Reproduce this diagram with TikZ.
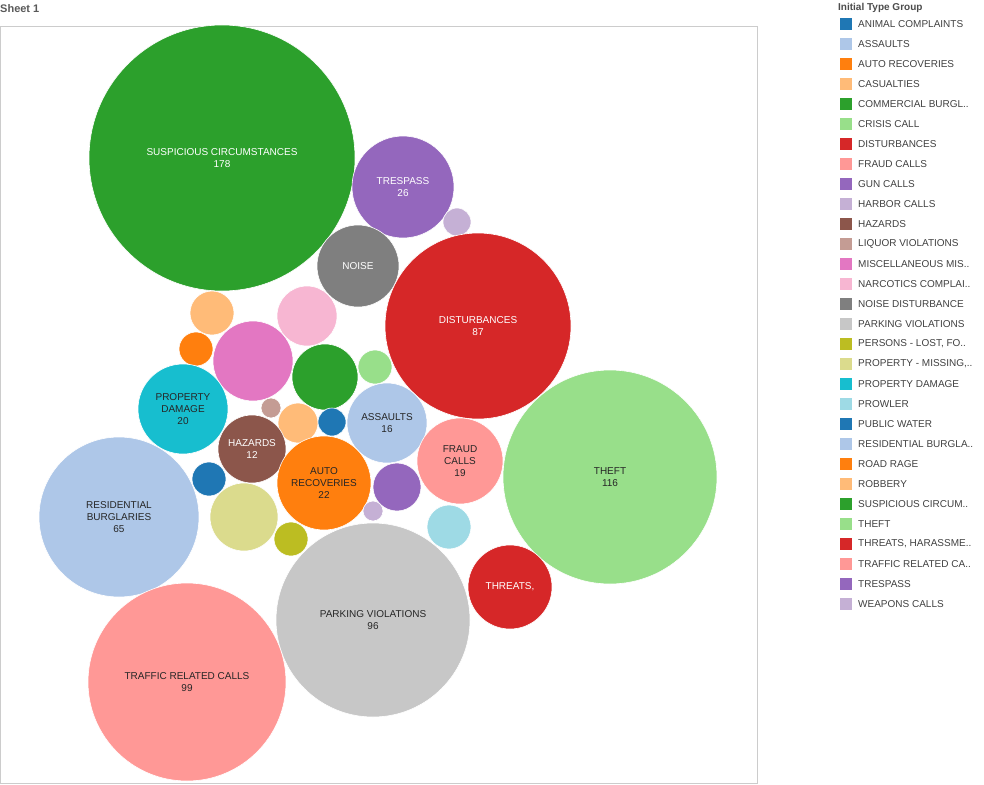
\documentclass[tikz,border=0pt]{standalone}
\usepackage{fontspec}
\setmainfont{Liberation Sans}
\begin{document}
\begin{tikzpicture}[x=1pt,y=-1pt,
  bub/.style={circle,draw=white,line width=0.6pt,inner sep=0pt,align=center,font=\fontsize{10}{12}\selectfont},
  wt/.style={text=white},
  bk/.style={text=black!85},
  leg/.style={anchor=west,font=\fontsize{10}{12}\selectfont,text=black!75,inner sep=0pt},
  sq/.style={minimum size=12pt,inner sep=0pt}]
\useasboundingbox (0,0) rectangle (984,784);
\definecolor{c1}{HTML}{1F77B4}\definecolor{c2}{HTML}{AEC7E8}\definecolor{c3}{HTML}{FF7F0E}
\definecolor{c4}{HTML}{FFBB78}\definecolor{c5}{HTML}{2CA02C}\definecolor{c6}{HTML}{98DF8A}
\definecolor{c7}{HTML}{D62728}\definecolor{c8}{HTML}{FF9896}\definecolor{c9}{HTML}{9467BD}
\definecolor{c10}{HTML}{C5B0D5}\definecolor{c11}{HTML}{8C564B}\definecolor{c12}{HTML}{C49C94}
\definecolor{c13}{HTML}{E377C2}\definecolor{c14}{HTML}{F7B6D2}\definecolor{c15}{HTML}{7F7F7F}
\definecolor{c16}{HTML}{C7C7C7}\definecolor{c17}{HTML}{BCBD22}\definecolor{c18}{HTML}{DBDB8D}
\definecolor{c19}{HTML}{17BECF}\definecolor{c20}{HTML}{9EDAE5}
\node[anchor=west,inner sep=0pt,font=\bfseries\fontsize{11}{13}\selectfont,text=black!65] (title) at (0,9) {Sheet 1};
\draw[black!20] (0,26) rectangle (757,783);
% bubbles
\node[bub,wt,fill=c5,minimum size=266pt] (susp) at (222,158) {SUSPICIOUS CIRCUMSTANCES\\178};
\node[bub,wt,fill=c9,minimum size=102pt] (tres) at (403,187) {TRESPASS\\26};
\node[bub,fill=c10,minimum size=28pt] (weap) at (457,222) {};
\node[bub,wt,fill=c15,minimum size=82pt] (noise) at (358,266) {NOISE};
\node[bub,wt,fill=c7,minimum size=186pt] (dist) at (478,326) {DISTURBANCES\\87};
\node[bub,bk,fill=c6,minimum size=214pt] (theft) at (610,477) {THEFT\\116};
\node[bub,fill=c14,minimum size=60pt] (narc) at (307,316) {};
\node[bub,fill=c4,minimum size=44pt] (rob) at (212,313) {};
\node[bub,fill=c3,minimum size=34pt] (road) at (196,349) {};
\node[bub,fill=c13,minimum size=80pt] (misc) at (253,361) {};
\node[bub,fill=c5,minimum size=66pt] (comm) at (325,377) {};
\node[bub,fill=c6,minimum size=34pt] (cris) at (375,367) {};
\node[bub,bk,fill=c19,minimum size=90pt] (prop) at (183,409) {PROPERTY\\DAMAGE\\20};
\node[bub,fill=c12,minimum size=20pt] (liq) at (271,408) {};
\node[bub,fill=c4,minimum size=40pt] (cas) at (298,423) {};
\node[bub,fill=c1,minimum size=28pt] (pw) at (332,422) {};
\node[bub,bk,fill=c2,minimum size=80pt] (ass) at (387,423) {ASSAULTS\\16};
\node[bub,wt,fill=c11,minimum size=68pt] (haz) at (252,449) {HAZARDS\\12};
\node[bub,bk,fill=c8,minimum size=86pt] (fraud) at (460,461) {FRAUD\\CALLS\\19};
\node[bub,fill=c1,minimum size=34pt] (anim) at (209,479) {};
\node[bub,bk,fill=c3,minimum size=94pt] (auto) at (324,483) {AUTO\\RECOVERIES\\22};
\node[bub,fill=c9,minimum size=48pt] (gun) at (397,487) {};
\node[bub,bk,fill=c2,minimum size=160pt] (res) at (119,517) {RESIDENTIAL\\BURGLARIES\\65};
\node[bub,fill=c18,minimum size=68pt] (miss) at (244,517) {};
\node[bub,fill=c10,minimum size=20pt] (harb) at (373,511) {};
\node[bub,fill=c20,minimum size=44pt] (prow) at (449,527) {};
\node[bub,fill=c17,minimum size=34pt] (lost) at (291,539) {};
\node[bub,bk,fill=c16,minimum size=194pt] (park) at (373,620) {PARKING VIOLATIONS\\96};
\node[bub,wt,fill=c7,minimum size=84pt] (thr) at (510,587) {THREATS,};
\node[bub,bk,fill=c8,minimum size=198pt] (traf) at (187,682) {TRAFFIC RELATED CALLS\\99};
% legend
\node[anchor=west,inner sep=0pt,font=\bfseries\fontsize{10}{12}\selectfont,text=black!70] (legt) at (838,8) {Initial Type Group};
\foreach \c/\t [count=\i] in {c1/ANIMAL COMPLAINTS,c2/ASSAULTS,c3/AUTO RECOVERIES,c4/CASUALTIES,c5/COMMERCIAL BURGL..,c6/CRISIS CALL,c7/DISTURBANCES,c8/FRAUD CALLS,c9/GUN CALLS,c10/HARBOR CALLS,c11/HAZARDS,c12/LIQUOR VIOLATIONS,c13/MISCELLANEOUS MIS..,c14/NARCOTICS COMPLAI..,c15/NOISE DISTURBANCE,c16/PARKING VIOLATIONS,c17/{PERSONS - LOST, FO..},c18/{PROPERTY - MISSING,..},c19/PROPERTY DAMAGE,c20/PROWLER,c1/PUBLIC WATER,c2/RESIDENTIAL BURGLA..,c3/ROAD RAGE,c4/ROBBERY,c5/SUSPICIOUS CIRCUM..,c6/THEFT,c7/{THREATS, HARASSME..},c8/TRAFFIC RELATED CA..,c9/TRESPASS,c10/WEAPONS CALLS}{
  \node[sq,fill=\c] (ls\i) at (846,4+20*\i) {};
  \node[leg] (lt\i) at (858,4+20*\i) {\t};
}
\end{tikzpicture}
\end{document}
